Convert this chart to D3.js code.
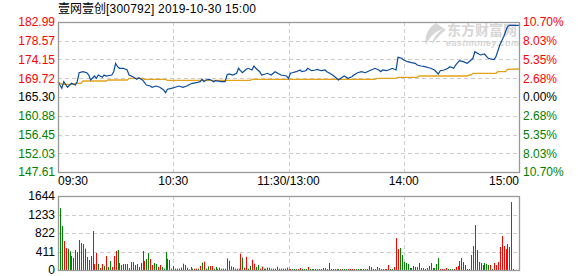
<!DOCTYPE html>
<head>
<meta charset="utf-8">
<title>壹网壹创 分时</title>
<script src="https://d3js.org/d3.v7.min.js"></script>
<style>
body { margin: 0; background: #fff; }
text { font-family: "Liberation Sans", Arial, sans-serif; font-size: 12px; }
</style>
</head>
<body>
<div id="chart"></div>
<script>

// tick labels
const priceTicks = [182.99, 178.57, 174.15, 169.72, 165.30, 160.88, 156.45, 152.03, 147.61];
const pctTicks = ["10.70%", "8.03%", "5.35%", "2.68%", "0.00%", "2.68%", "5.35%", "8.03%", "10.70%"];
const volTicks = [0, 411, 822, 1233, 1644];
const timeLabels = ["09:30", "10:30", "11:30/13:00", "14:00", "15:00"];
const timeMinutes = [0, 60, 120, 180, 240];
const prevClose = 165.30;

// price line (minute index, price)
const priceMin = [0,2,3,5,7,9,10,11,13,15,16,17,19,20,21,23,24,25,28,29,30,31,32,34,36,37,39,41,42,44,46,48,49,51,53,55,56,57,59,61,63,65,67,69,70,72,74,75,76,77,79,81,82,85,87,88,89,91,93,94,95,96,98,99,101,102,103,105,106,108,109,111,113,114,116,119,120,121,122,124,126,127,129,130,132,134,135,137,139,140,141,143,145,146,148,149,151,153,154,156,158,160,161,163,164,165,167,168,169,171,173,174,176,177,179,180,182,184,186,187,189,191,193,194,196,198,199,201,203,204,206,207,209,211,213,214,216,217,219,220,222,224,226,227,228,230,232,233,234,235,240];
const priceVal = [168.91,167.35,168.91,167.59,168.53,168.13,168.91,171.03,171.27,171.03,170.49,169.31,170.25,169.71,170.49,169.95,170.49,170.25,170.49,171.27,173.25,172.45,172.07,172.07,171.67,170.49,170.09,169.47,169.85,169.31,168.13,167.89,167.59,167.89,167.59,166.95,166.32,167.12,167.35,167.59,167.89,167.59,167.89,168.37,168.53,168.67,168.91,169.47,168.91,169.31,169.47,168.91,169.15,168.91,168.91,170.49,170.73,170.49,170.89,172.07,171.50,171.03,171.83,172.07,171.67,172.61,172.07,171.27,170.49,170.73,170.89,170.49,171.27,171.03,170.49,170.25,169.65,170.89,171.03,171.27,171.67,171.27,171.50,172.07,171.50,171.67,171.83,171.50,171.67,171.27,171.03,170.49,169.71,169.31,169.95,170.25,169.71,170.09,170.49,171.03,171.27,171.03,171.27,171.67,171.83,172.07,171.67,171.27,171.67,171.50,171.83,172.07,171.67,174.66,174.43,174.03,173.63,173.39,173.25,172.85,172.61,172.45,172.21,172.07,171.67,170.73,171.50,171.67,172.07,172.45,172.07,172.85,173.86,173.63,173.25,173.63,174.43,175.98,175.44,175.21,175.44,174.43,174.19,174.19,174.81,177.57,179.52,180.70,181.88,182.21,182.21];

// average price line
const avgMin = [0,2,8,9,12,13,25,26,36,37,44,45,56,57,100,101,165,166,176,177,187,188,213,214,215,216,228,229,233,234,240];
const avgVal = [168.91,168.30,168.30,168.53,168.53,169.07,169.07,169.31,169.31,169.71,169.71,169.47,169.47,169.20,169.20,169.47,169.47,169.71,169.71,169.95,169.95,170.25,170.25,170.49,170.49,170.89,170.89,171.27,171.27,171.83,171.90];

// volume per minute (hands) and direction R = up, G = down
const volume = [0,1376,977,644,488,474,414,311,266,444,
  400,666,600,577,474,289,222,311,866,133,
  377,133,44,133,89,311,67,200,67,311,
  422,444,155,111,133,133,133,44,177,177,
  111,133,67,155,422,200,244,377,244,111,
  155,133,67,111,67,30,400,250,222,30,
  89,30,30,30,52,140,111,52,15,67,
  30,30,30,30,89,163,185,30,81,89,
  89,30,67,30,52,30,30,30,259,207,
  81,67,30,30,30,363,274,52,296,30,
  89,229,140,67,111,30,74,30,30,52,
  52,30,30,30,74,30,30,30,30,52,
  30,22,22,22,22,22,44,22,22,22,
  67,22,22,22,22,22,22,22,44,44,
  22,155,22,22,22,22,22,22,22,22,
  22,22,22,22,22,22,22,22,22,22,
  22,22,89,67,22,22,67,44,22,22,
  22,22,111,22,22,67,710,466,488,333,
  178,155,133,44,44,89,67,67,155,44,
  44,22,44,89,155,44,44,133,266,22,
  22,22,44,22,22,22,22,67,89,200,
  266,178,111,22,22,333,533,999,444,178,
  155,111,155,133,111,111,22,155,111,178,
  511,755,533,466,577,511,1510,22,0,0,
  777];
const volDir = "GGGRRGGRRG" + "RRRRGGRGGR" + "RGRRGRGGRR" + "RGGGRGGRGG" + "RRRGGRGGRR" +
  "GGRRGGGRRR" + "RGRRGGRRGR" + "GRRGRGRGGR" + "RGGRGGRRRR" + "GGGRRRGRRG" +
  "GRRGGRRGGG" + "RRRRRGGGGG" + "GRGGGRRGGG" + "RGGGRRRRRG" + "GRGGGGGRGG" +
  "GRRRRGGGGR" + "RRRRGGRGGG" + "GRRGGRRRGG" + "GGGGGGGRGG" + "GRGRRGGGGR" +
  "RRRGGGRRRR" + "GGGGGRRRGG" + "RGGGGRGRRR" + "RRRRRRRGGG" + "R";

const W = 578, H = 276;
const left = 58, right = 519;
const pTop = 22, pBottom = 172;
const vTop = 196, vBottom = 270;
const red = "#ff0000", green = "#008000", blue = "#0a4b9e", gold = "#e3a21a";

const svg = d3.select("#chart").append("svg")
  .attr("width", W).attr("height", H);

const x = d3.scaleLinear().domain([0, 240]).range([left, right]);
const y = d3.scaleLinear().domain([priceTicks[8], priceTicks[0]]).range([pBottom, pTop]);
const yv = d3.scaleLinear().domain([0, volTicks[4]]).range([vBottom, vTop]);

// watermark
const wm = svg.append("g").attr("fill", "#d6d6d6");
wm.append("path")
  .attr("d", "M436,23 C428,28 424,36 426,45 C429,38 434,32 443,29 C437,33 433,38 432,44 C437,38 441,33 446,30 Z");
wm.append("text").attr("x", 447).attr("y", 35)
  .style("font-family", "'Noto Sans CJK SC'").style("font-size", "14px").style("font-weight", "bold")
  .text("东方财富网");
wm.append("text").attr("x", 446).attr("y", 46)
  .style("font-size", "9px").style("font-weight", "bold").style("font-style", "italic")
  .attr("textLength", 73)
  .text("eastmoney.com");

// grid lines
function grid(g, yScale, values) {
  g.selectAll("line.h").data(values).enter().append("line")
    .attr("x1", left).attr("x2", right)
    .attr("y1", d => Math.round(yScale(d)) + 0.5).attr("y2", d => Math.round(yScale(d)) + 0.5);
  g.selectAll("line.v").data(timeMinutes.slice(1, 4)).enter().append("line")
    .attr("x1", d => Math.round(x(d)) + 0.5).attr("x2", d => Math.round(x(d)) + 0.5)
    .attr("y1", yScale.range()[1]).attr("y2", yScale.range()[0]);
}
const gp = svg.append("g").attr("stroke", "#cccccc").attr("stroke-dasharray", "4,3");
grid(gp, y, priceTicks.slice(1, 8));
const gv = svg.append("g").attr("stroke", "#cccccc").attr("stroke-dasharray", "4,3");
grid(gv, yv, volTicks.slice(1, 4));

// left price axis
const axL = svg.append("g").attr("transform", "translate(" + (left - 3) + ",0)")
  .call(d3.axisLeft(y).tickValues(priceTicks).tickSize(0).tickPadding(0).tickFormat(d3.format(".2f")));
axL.select(".domain").remove();
axL.selectAll("text")
  .style("font-size", "12px")
  .attr("fill", d => d > prevClose ? red : d < prevClose ? green : "#000");

// right percent axis
const axR = svg.append("g").attr("transform", "translate(" + (right + 4) + ",0)")
  .call(d3.axisRight(y).tickValues(priceTicks).tickSize(0).tickPadding(0).tickFormat((d, i) => pctTicks[i]));
axR.select(".domain").remove();
axR.selectAll("text")
  .style("font-size", "12px")
  .attr("fill", d => d > prevClose ? red : d < prevClose ? green : "#000");

// volume axis
const axV = svg.append("g").attr("transform", "translate(" + (left - 3) + ",0)")
  .call(d3.axisLeft(yv).tickValues(volTicks).tickSize(0).tickPadding(0).tickFormat(d3.format("d")));
axV.select(".domain").remove();
axV.selectAll("text").style("font-size", "12px").attr("fill", "#000");

// time labels
svg.append("g").selectAll("text").data(timeMinutes).enter().append("text")
  .attr("x", d => x(d))
  .attr("y", 185)
  .attr("text-anchor", (d, i) => i === 0 ? "start" : i === 4 ? "end" : "middle")
  .attr("fill", "#000")
  .text((d, i) => timeLabels[i]);

// average price line
const avgPts = avgMin.map((m, i) => [m, avgVal[i]]);
svg.append("path").datum(avgPts)
  .attr("fill", "none").attr("stroke", gold).attr("stroke-width", 1.3)
  .attr("d", d3.line().x(d => x(d[0])).y(d => y(d[1])));

// price line
const pricePts = priceMin.map((m, i) => [m, priceVal[i]]);
svg.append("path").datum(pricePts)
  .attr("fill", "none").attr("stroke", blue).attr("stroke-width", 1.2)
  .attr("d", d3.line().x(d => x(d[0])).y(d => y(d[1])));

// volume bars
svg.append("g").selectAll("rect").data(volume).enter().append("rect")
  .attr("x", (d, i) => Math.round(x(i)))
  .attr("width", 1)
  .attr("y", d => yv(d))
  .attr("height", d => vBottom - yv(d))
  .attr("fill", (d, i) => volDir[i] === "R" ? red : green);

// frames
svg.append("rect").attr("x", left + 0.5).attr("y", pTop + 0.5)
  .attr("width", right - left).attr("height", pBottom - pTop)
  .attr("fill", "none").attr("stroke", "#999").attr("stroke-width", 1.3);
svg.append("rect").attr("x", left + 0.5).attr("y", vTop + 0.5)
  .attr("width", right - left).attr("height", vBottom - vTop)
  .attr("fill", "none").attr("stroke", "#999").attr("stroke-width", 1.3);

// title
svg.append("text").attr("x", left).attr("y", 13)
  .style("font-family", "'Noto Sans CJK SC'").style("font-size", "12px")
  .attr("fill", "#000").text("壹网壹创");
svg.append("text").attr("x", 106).attr("y", 13)
  .attr("textLength", 150).attr("lengthAdjust", "spacing")
  .attr("fill", "#000").text("[300792] 2019-10-30 15:00");

</script>
</body>
</html>
